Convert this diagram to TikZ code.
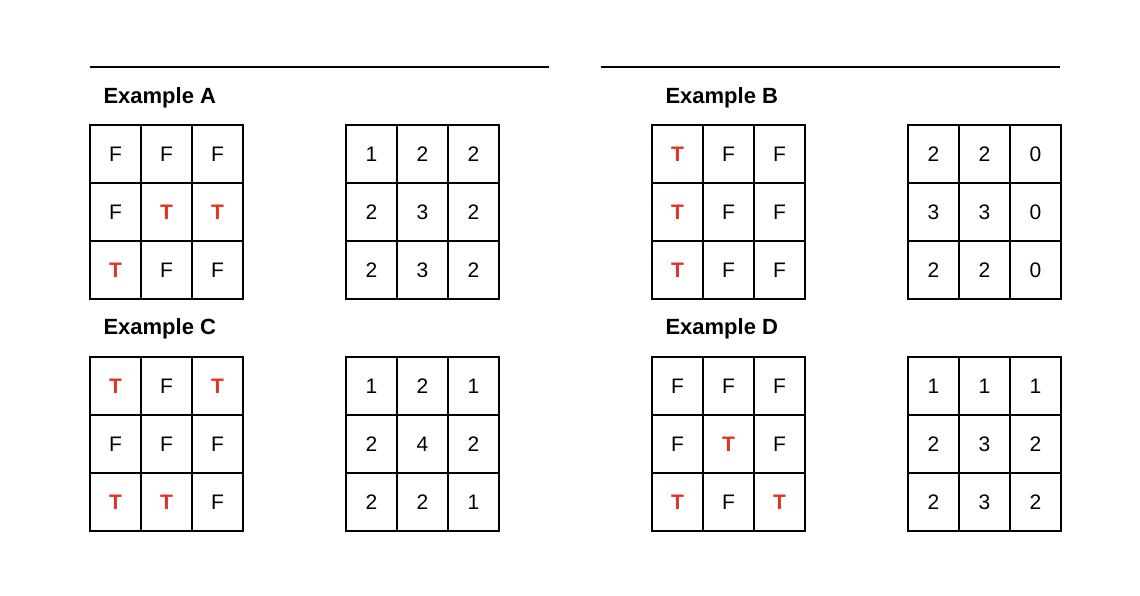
\documentclass[tikz,border=0pt]{standalone}
\usepackage{fontspec}
\setmainfont{Liberation Sans}
\definecolor{tred}{RGB}{226,50,35}
\tikzset{x=1pt,y=-1pt,
 cell/.style={draw=black,line width=1.2pt,minimum width=51pt,minimum height=58pt,inner sep=0pt,font=\fontsize{21}{21}\selectfont},
 tcell/.style={cell,text=tred,font=\fontsize{21}{21}\selectfont\bfseries},
 title/.style={anchor=west,font=\fontsize{22}{22}\selectfont\bfseries},
 rule/.style={line width=1.2pt}}
\newcommand{\mygrid}[4]{%
 \foreach \v/\s [count=\i from 0] in {#4} {%
  \pgfmathtruncatemacro{\r}{int(\i/3)}\pgfmathtruncatemacro{\c}{mod(\i,3)}%
  \node[\s] (#1\r\c) at ({#2+25.5+51*\c},{#3+29+58*\r}) {\v};}}
\begin{document}
\begin{tikzpicture}
\useasboundingbox (0,0) rectangle (1140,596);
\coordinate (l1) at (90,67); \coordinate (l2) at (549,67);
\coordinate (r1) at (601,67); \coordinate (r2) at (1060,67);
\draw[rule] (l1) -- (l2); \draw[rule] (r1) -- (r2);
\node[title] (ta) at (100,98) {Example A};
\node[title] (tb) at (662,98) {Example B};
\node[title] (tc) at (100,329) {Example C};
\node[title] (td) at (662,329) {Example D};
\mygrid{a}{90}{125}{F/cell,F/cell,F/cell,F/cell,T/tcell,T/tcell,T/tcell,F/cell,F/cell}
\mygrid{an}{346}{125}{1/cell,2/cell,2/cell,2/cell,3/cell,2/cell,2/cell,3/cell,2/cell}
\mygrid{b}{652}{125}{T/tcell,F/cell,F/cell,T/tcell,F/cell,F/cell,T/tcell,F/cell,F/cell}
\mygrid{bn}{908}{125}{2/cell,2/cell,0/cell,3/cell,3/cell,0/cell,2/cell,2/cell,0/cell}
\mygrid{c}{90}{357}{T/tcell,F/cell,T/tcell,F/cell,F/cell,F/cell,T/tcell,T/tcell,F/cell}
\mygrid{cn}{346}{357}{1/cell,2/cell,1/cell,2/cell,4/cell,2/cell,2/cell,2/cell,1/cell}
\mygrid{d}{652}{357}{F/cell,F/cell,F/cell,F/cell,T/tcell,F/cell,T/tcell,F/cell,T/tcell}
\mygrid{dn}{908}{357}{1/cell,1/cell,1/cell,2/cell,3/cell,2/cell,2/cell,3/cell,2/cell}
\end{tikzpicture}
\end{document}
